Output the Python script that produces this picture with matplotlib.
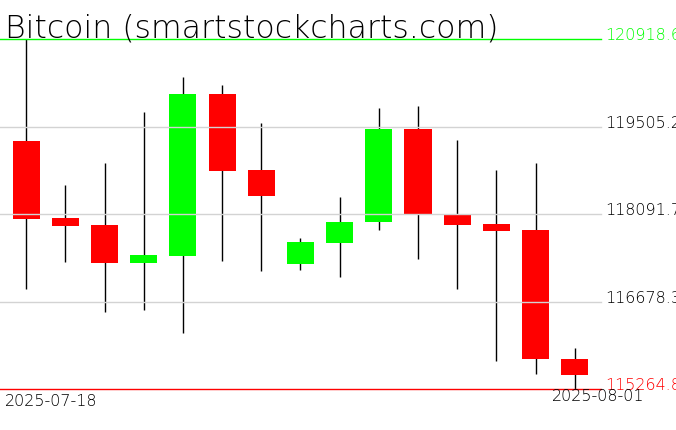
import matplotlib
matplotlib.use("Agg")
import matplotlib.pyplot as plt
from matplotlib.patches import Rectangle

# daily Bitcoin candles, 2025-07-18 .. 2025-08-01
dates = ["2025-07-18", "2025-07-19", "2025-07-20", "2025-07-21", "2025-07-22",
         "2025-07-23", "2025-07-24", "2025-07-25", "2025-07-26", "2025-07-27",
         "2025-07-28", "2025-07-29", "2025-07-30", "2025-07-31", "2025-08-01"]
opens = [119276, 118032, 117919, 117310, 117423, 120035, 118807, 117294,
         117633, 117972, 119470, 118080, 117935, 117838, 115754]
highs = [120918.6, 118565, 118920, 119739, 120310, 120180, 119566, 117709,
         118371, 119809, 119841, 119292, 118807, 118920, 115932]
lows = [116890, 117326, 116518, 116551, 116179, 117342, 117181, 117197,
        117084, 117843, 117374, 116890, 115727, 115507, 115264.8]
closes = [118016, 117908, 117310, 117434, 120035, 118796, 118392, 117644,
          117967, 119470, 118076, 117924, 117827, 115759, 115501]

y_levels = [120918.6, 119505.2, 118091.7, 116678.3, 115264.8]
title = "Bitcoin (smartstockcharts.com)"

plt.rcParams["font.family"] = ["DejaVu Sans"]
plt.rcParams["font.weight"] = "light"

W, H = 676, 431
fig = plt.figure(figsize=(W / 100, H / 100), dpi=100)
plot_right = 600.7
plot_top, plot_bottom = 40.3, 390.3
ax = fig.add_axes([0, (H - plot_bottom) / H, plot_right / W,
                   (plot_bottom - plot_top) / H])
ax.set_axis_off()

n = len(dates)
step = 39.17
ax.set_xlim(-26.3 / step, (plot_right - 26.3) / step)
ax.set_ylim(y_levels[-1], y_levels[0])

body_w = 0.69
for i in range(n):
    o, h, l, c = opens[i], highs[i], lows[i], closes[i]
    ax.plot([i, i], [l, h], color="black", lw=1.0, zorder=2,
            solid_capstyle="butt", clip_on=False)
    color = "#00ff00" if c >= o else "#ff0000"
    ax.add_patch(Rectangle((i - body_w / 2, min(o, c)), body_w, abs(c - o),
                           facecolor=color, edgecolor="none", zorder=3))

# horizontal reference lines, drawn over the candles
for k, lev in enumerate(y_levels):
    if k == 0:
        col = "#00ff00"
    elif k == len(y_levels) - 1:
        col = "#ff0000"
    else:
        col = "#d3d3d3"
    ax.axhline(lev, color=col, lw=1.0, zorder=4, clip_on=False)
    txt_col = "black" if col == "#d3d3d3" else col
    ax.text(1.0 + 4.5 / plot_right, lev, f"{lev:.1f}", color=txt_col,
            fontsize=11.5, va="baseline", ha="left",
            transform=ax.get_yaxis_transform(), clip_on=False)

fig.text(5 / W, (H - 37.5) / H, title, fontsize=22.7, va="baseline",
         ha="left", color="black")
fig.text(5 / W, (H - 406) / H, dates[0], fontsize=11.5, va="baseline",
         ha="left", color="black")
fig.text(644 / W, (H - 401) / H, dates[-1], fontsize=11.5, va="baseline",
         ha="right", color="black")

fig.savefig("out.png", dpi=100)
